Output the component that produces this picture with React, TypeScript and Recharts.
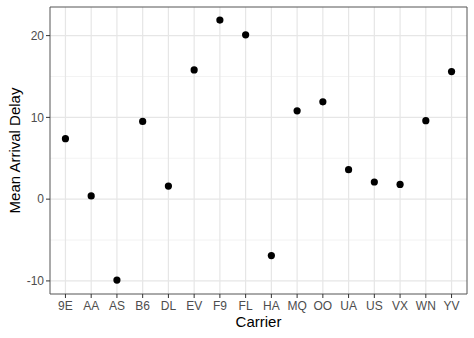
import React from 'react';
import { ScatterChart, Scatter, XAxis, YAxis, CartesianGrid, ReferenceArea } from 'recharts';

const carriers = ['9E', 'AA', 'AS', 'B6', 'DL', 'EV', 'F9', 'FL', 'HA', 'MQ', 'OO', 'UA', 'US', 'VX', 'WN', 'YV'];
const meanDelay = [7.4, 0.4, -9.9, 9.5, 1.6, 15.8, 21.9, 20.1, -6.9, 10.8, 11.9, 3.6, 2.1, 1.8, 9.6, 15.6];
const yTicks = [-10, 0, 10, 20];
const yMinor = [-5, 5, 15];

const data = carriers.map((c, i) => ({ idx: i + 1, carrier: c, delay: meanDelay[i] }));
const xTicks = carriers.map((_, i) => i + 1);

const X_DOMAIN: [number, number] = [0.4, carriers.length + 0.6];
const Y_DOMAIN: [number, number] = [-11.6, 23.5];

const FONT = '"Liberation Sans", Arial, Helvetica, sans-serif';

export default function App() {
  return (
    <div style={{ position: 'absolute', left: 0, top: 0, width: 474, height: 338, background: '#fff', fontFamily: FONT }}>
      <ScatterChart width={474} height={338} margin={{ top: 7, right: 7, bottom: 0, left: 0 }}>
        <CartesianGrid
          horizontalValues={yMinor}
          vertical={false}
          stroke="#EBEBEB"
          strokeWidth={0.6}
        />
        <CartesianGrid
          horizontalValues={yTicks}
          verticalValues={xTicks}
          stroke="#E6E6E6"
          strokeWidth={1.2}
        />
        <XAxis
          type="number"
          dataKey="idx"
          domain={X_DOMAIN}
          ticks={xTicks}
          interval={0}
          allowDataOverflow
          tickFormatter={(v: number) => carriers[v - 1] ?? ''}
          axisLine={false}
          tickLine={{ stroke: '#333333' }}
          tickSize={4}
          tickMargin={3}
          height={44}
          tick={{ fill: '#4D4D4D', fontSize: 12, fontFamily: FONT }}
          label={{ value: 'Carrier', position: 'insideBottom', offset: 11, fill: '#000', fontSize: 15, fontFamily: FONT }}
        />
        <YAxis
          type="number"
          dataKey="delay"
          domain={Y_DOMAIN}
          ticks={yTicks}
          allowDataOverflow
          axisLine={false}
          tickLine={{ stroke: '#333333' }}
          tickSize={4}
          tickMargin={2}
          width={50}
          tick={{ fill: '#4D4D4D', fontSize: 12, fontFamily: FONT }}
          label={{ value: 'Mean Arrival Delay', angle: -90, position: 'insideLeft', offset: 15, style: { textAnchor: 'middle' }, fill: '#000', fontSize: 15, fontFamily: FONT }}
        />
        <ReferenceArea
          x1={X_DOMAIN[0]}
          x2={X_DOMAIN[1]}
          y1={Y_DOMAIN[0]}
          y2={Y_DOMAIN[1]}
          fill="none"
          stroke="#555555"
          strokeWidth={1}
          ifOverflow="visible"
        />
        <Scatter data={data} fill="#000" isAnimationActive={false} shape={(p: any) => <circle cx={p.cx} cy={p.cy} r={3.6} fill="#000" />} />
      </ScatterChart>
    </div>
  );
}
